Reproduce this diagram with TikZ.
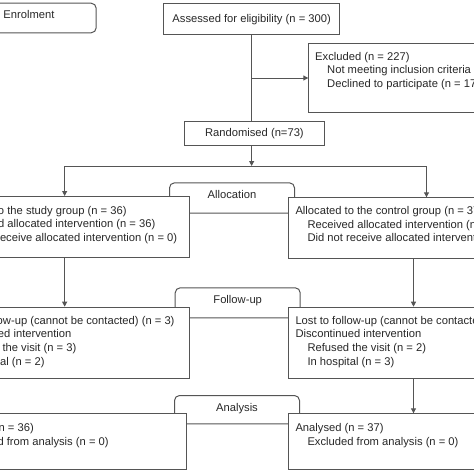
\documentclass[tikz,border=0pt]{standalone}
\usepackage{fontspec}
\setmainfont{Liberation Sans}
\usetikzlibrary{arrows.meta,positioning,calc}
\definecolor{linecolor}{RGB}{85,85,85}
\definecolor{textcolor}{RGB}{40,40,40}

\tikzset{
  flowfont/.style={font=\fontsize{11.2}{13.6}\selectfont,text=textcolor},
  box/.style={draw=linecolor,line width=1pt,fill=white,inner sep=0pt,anchor=north west,flowfont},
  phase/.style={draw=linecolor,line width=1pt,fill=white,rounded corners=5pt,inner sep=0pt,text height=15.7pt,flowfont},
  txt/.style={inner sep=0pt,align=left,flowfont},
  conn/.style={draw=linecolor,line width=1pt},
  arr/.style={conn,-{Triangle[length=5pt,width=5pt]}}
}

\begin{document}
\begin{tikzpicture}[x=1pt,y=-1pt]
\useasboundingbox (0,0) rectangle (474,474);
\clip (0,0) rectangle (474,474);

% enrolment
\node[phase,anchor=north west,minimum width=134.4pt,text depth=13.9pt] (enrol) at (-38.7,2.7) {Enrolment};
\node[box,minimum width=175.7pt,minimum height=30.7pt] (assess) at (163.3,3.3) {Assessed for eligibility (n = 300)};
\node[box,minimum width=250pt,minimum height=69.6pt] (excl) at (308.3,42.7) {};
\node[txt,below right=9.3pt and 6.7pt of excl.north west] (excltxt) {Excluded (n = 227)\\\hspace*{12pt}Not meeting inclusion criteria\\\hspace*{12pt}Declined to participate (n = 171)};
\node[box,minimum width=140.8pt,minimum height=24pt] (rand) at (183.5,121) {Randomised (n=73)};

% phase labels
\foreach \i/\x/\y/\d/\lbl in {alloc/232/182.3/14.7/Allocation, follow/237.7/287.3/14.3/Follow-up, anal/237/395/12.6/Analysis} {
    \node[phase,anchor=north,minimum width=125pt,text depth=\d pt] (\i) at (\x,\y) {\lbl};
}

% allocation
\node[box,minimum width=250.3pt,minimum height=61.3pt] (studyA) at (-61,196) {};
\node[txt,below right=10pt and 6.5pt of studyA.north west] (studyAtxt) {Allocated to the study group (n = 36)\\\hspace*{12pt}Received allocated intervention (n = 36)\\\hspace*{12pt}Did not receive allocated intervention (n = 0)};
\node[box,minimum width=250pt,minimum height=60.4pt] (ctrlA) at (288,197.3) {};
\node[txt,below right=9pt and 7.3pt of ctrlA.north west] (ctrlAtxt) {Allocated to the control group (n = 37)\\\hspace*{12pt}Received allocated intervention (n = 37)\\\hspace*{12pt}Did not receive allocated intervention (n = 0)};

% follow-up
\node[box,minimum width=250.3pt,minimum height=71.6pt] (studyF) at (-61,306.7) {};
\node[txt,below right=9.3pt and 6.5pt of studyF.north west] (studyFtxt) {Lost to follow-up (cannot be contacted) (n = 3)\\Discontinued intervention\\\hspace*{12pt}Refused the visit (n = 3)\\\hspace*{12pt}In hospital (n = 2)};
\node[box,minimum width=250pt,minimum height=71.3pt] (ctrlF) at (288,306.7) {};
\node[txt,below right=9.3pt and 7.3pt of ctrlF.north west] (ctrlFtxt) {Lost to follow-up (cannot be contacted) (n = 0)\\Discontinued intervention\\\hspace*{12pt}Refused the visit (n = 2)\\\hspace*{12pt}In hospital (n = 3)};

% analysis
\node[box,minimum width=247pt,minimum height=56pt] (studyZ) at (-61,413.3) {};
\node[txt,below right=10pt and 6.5pt of studyZ.north west] (studyZtxt) {Analysed (n = 36)\\\hspace*{12pt}Excluded from analysis (n = 0)};
\node[box,minimum width=250pt,minimum height=56pt] (ctrlZ) at (288,413.3) {};
\node[txt,below right=10pt and 7.3pt of ctrlZ.north west] (ctrlZtxt) {Analysed (n = 37)\\\hspace*{12pt}Excluded from analysis (n = 0)};

% connectors
\coordinate (split) at ($(assess.south |- rand.south)+(0,20)$);
\draw[conn] (assess.south) -- (assess.south |- rand.north);
\draw[arr] (assess.south |- excl.west) -- (excl.west);
\draw[arr] (assess.south |- rand.south) -- (split);
\draw[arr] (split) -| (studyA.north);
\draw[arr] (split) -| ($(ctrlA.north)+(13,0)$);
\draw[arr] (studyA.south) -- (studyF.north);
\draw[arr] (ctrlA.south) -- (ctrlF.north);
\draw[arr] (ctrlF.south) -- (ctrlZ.north);
\end{tikzpicture}
\end{document}
